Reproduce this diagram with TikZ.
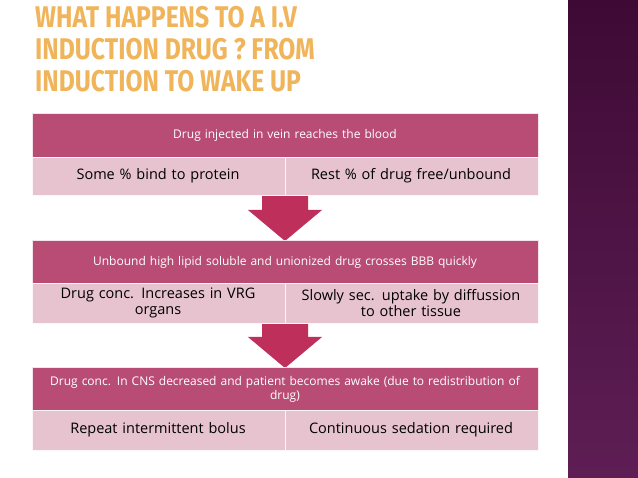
\documentclass[tikz,border=0pt]{standalone}
\usepackage{fontspec}
\setmainfont{Open Sans}
\newfontfamily\titlefont{Fira Sans}
\hyphenpenalty=10000
\definecolor{hdr}{HTML}{B84C74}
\definecolor{low}{HTML}{E7C3CF}
\definecolor{arr}{HTML}{BE2F5C}
\definecolor{ttl}{HTML}{F0B45A}
\definecolor{strip1}{HTML}{3E0A35}
\definecolor{strip2}{HTML}{5E1E55}
\begin{document}
\begin{tikzpicture}[x=1pt,y=-1pt,
  header/.style={fill=hdr,draw=white!85!hdr,line width=0.4pt},
  lower/.style={fill=low,draw=white!85!low,line width=0.4pt},
  htext/.style={text=white,font=\fontsize{12}{14}\selectfont,align=center,text width=500pt},
  ltext/.style={text=black,font=\fontsize{14.5}{15.5}\selectfont,align=center,text width=245pt},
  ttext/.style={text=ttl,font=\titlefont\bfseries\fontsize{26}{26}\selectfont,anchor=west,inner sep=0pt,yscale=1.15,xscale=0.95},
  bigarrow/.style={fill=arr,draw=none}]
\useasboundingbox (0,0) rectangle (638,478);
\fill[white] (0,0) rectangle (638,478);
\shade[top color=strip1,bottom color=strip2] (568,0) rectangle (638,478);
% title
\node[ttext] (t1) at (35,17) {WHAT HAPPENS TO A I.V};
\node[ttext] (t2) at (35,49) {INDUCTION DRUG ? FROM};
\node[ttext] (t3) at (35,81) {INDUCTION TO WAKE UP};
% arrows
\fill[bigarrow] (262,195) -- (308,195) -- (308,210) -- (322,210) -- (285,241) -- (248,210) -- (262,210) -- cycle;
\fill[bigarrow] (262,323) -- (308,323) -- (308,337) -- (322,337) -- (285,368) -- (248,337) -- (262,337) -- cycle;
% box 1
\draw[header] (32,113) rectangle (538,157);
\node[htext] (h1) at (285,135) {Drug injected in vein reaches the blood};
\draw[lower] (32,157) rectangle (285,195);
\draw[lower] (285,157) rectangle (538,195);
\node[ltext] (l1a) at (158,176) {Some \% bind to protein};
\node[ltext] (l1b) at (411,176) {Rest \% of drug free/unbound};
% box 2
\draw[header] (32,240) rectangle (538,283);
\node[htext] (h2) at (285,262) {Unbound high lipid soluble and unionized drug crosses BBB quickly};
\draw[lower] (32,283) rectangle (285,323);
\draw[lower] (285,283) rectangle (538,323);
\node[ltext] (l2a) at (158,303) {Drug conc. Increases in VRG\\organs};
\node[ltext] (l2b) at (411,303) {Slowly sec. uptake by diffussion\\to other tissue};
% box 3
\draw[header] (32,367) rectangle (538,410);
\node[htext] (h3) at (285,389) {Drug conc. In CNS decreased and patient becomes awake (due to redistribution of\\drug)};
\draw[lower] (32,410) rectangle (285,450);
\draw[lower] (285,410) rectangle (538,450);
\node[ltext] (l3a) at (158,430) {Repeat intermittent bolus};
\node[ltext] (l3b) at (411,430) {Continuous sedation required};
\end{tikzpicture}
\end{document}
